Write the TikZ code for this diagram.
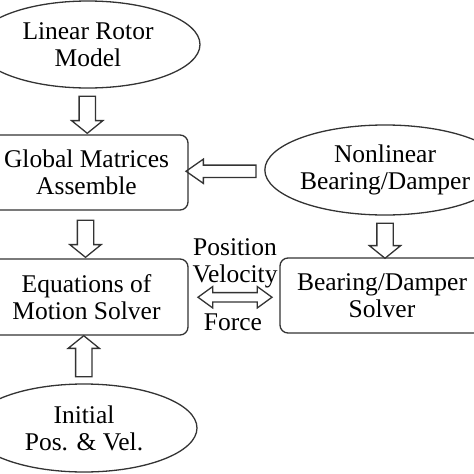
\documentclass[tikz,border=0pt]{standalone}
\usepackage{fontspec}
\setmainfont{Liberation Serif}
\usetikzlibrary{shapes.geometric,shapes.arrows,calc}
\begin{document}
\begin{tikzpicture}[x=1pt,y=-1pt,
  every node/.style={font=\fontsize{25.5}{27}\selectfont, text=black, align=center, inner sep=0pt, outer sep=0pt},
  ln/.style={draw=black!80, line width=1.3pt},
  oval/.style={ln, ellipse},
  box/.style={ln, rectangle, rounded corners=8pt, minimum width=203pt, minimum height=75pt},
  barrow/.style={ln, single arrow, minimum height=#1, inner sep=7.5pt, single arrow head extend=7.5pt, single arrow tip angle=102},
  hbarrow/.style={ln, single arrow, minimum height=#1, inner sep=5.5pt, single arrow head extend=6pt, single arrow tip angle=70},
  dbarrow/.style={ln, double arrow, minimum height=#1, inner sep=4pt, double arrow head extend=6pt, double arrow tip angle=72},
  lbl/.style={anchor=base}
]
\useasboundingbox (0,0) rectangle (474,474);
\clip (0,0) rectangle (474,474);
\node[oval, minimum width=224pt, minimum height=87pt] (lin) at (88,44.5) {Linear Rotor\\Model};
\node[box] (glob) at (86.5,172.5) {Global Matrices\\Assemble};
\node[oval, minimum width=230pt, minimum height=90pt] (nonlin) at (385,170) {Nonlinear\\Bearing/Damper};
\node[box, minimum height=76pt] (eqn) at (86.5,297) {Equations of\\Motion Solver};
\node[box, minimum width=204pt] (bear) at (382,295.5) {Bearing/Damper\\Solver};
\node[oval, minimum width=226pt, minimum height=88pt] (init) at (84,428) {Initial\\Pos. \& Vel.};
% block arrows
\node[barrow=37pt, shape border rotate=270] (a1) at ($(lin.south)!0.5!(glob.north)$) {};
\node[hbarrow=70pt, shape border rotate=180] (a2) at ($(nonlin.west)!0.5!(glob.east)+(-1,0)$) {};
\node[barrow=35pt, shape border rotate=270] (a3) at ($(nonlin.south)!0.5!(bear.north)+(1.5,1)$) {};
\node[barrow=37pt, shape border rotate=270] (a4) at ($(glob.south)!0.5!(eqn.north)+(-1,1)$) {};
\node[dbarrow=74pt] (a5) at ($(eqn.east)!0.5!(bear.west)+(1,1)$) {};
\node[barrow=41pt, shape border rotate=90] (a6) at ($(eqn.south)!0.5!(init.north)+(-1.5,0)$) {};
% labels
\node[lbl] (pos) at (235,255) {Position};
\node[lbl] (vel) at (235,282) {Velocity};
\node[lbl] (frc) at (233,330) {Force};
\end{tikzpicture}
\end{document}
